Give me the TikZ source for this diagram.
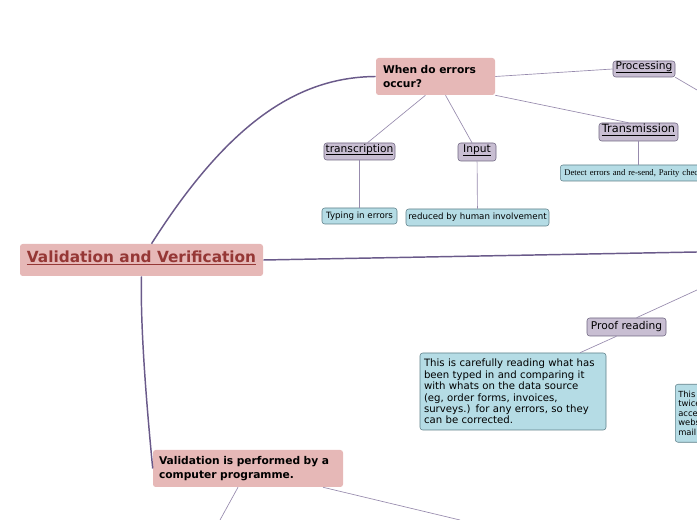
\documentclass[tikz,border=0pt]{standalone}
\usepackage{fontspec}
\setmainfont{DejaVu Sans}
\newfontfamily\serifx{Liberation Serif}
\newcommand\myul[1]{$\underline{\smash{\hbox{#1}}\vphantom{a}}$}
\definecolor{pinkf}{HTML}{E6B8B7}
\definecolor{purf}{HTML}{C8BED2}
\definecolor{purd}{HTML}{6E6680}
\definecolor{bluef}{HTML}{B5DCE5}
\definecolor{blued}{HTML}{5E7F88}
\definecolor{edge}{HTML}{6A5A8A}
\definecolor{redt}{HTML}{953735}
\begin{document}
\begin{tikzpicture}[x=0.75pt,y=-0.75pt,
 pinkbox/.style={fill=pinkf,rounded corners=2pt,inner sep=0pt,align=left},
 subbox/.style={fill=purf,draw=purd,rounded corners=2pt,inner sep=0pt,font=\fontsize{8}{9}\selectfont},
 leafbox/.style={fill=bluef,draw=blued,rounded corners=2pt,inner sep=0pt,font=\fontsize{6.5}{7}\selectfont},
 thick edge/.style={draw=edge,line width=1.1pt},
 thin edge/.style={draw=edge!70,line width=0.5pt}]
\useasboundingbox (0,0) rectangle (697,520);
\clip (0,0) rectangle (697,520);
% nodes
\node[pinkbox,minimum width=243*0.75pt,minimum height=32*0.75pt,align=center,font=\fontsize{11.5}{13}\selectfont\bfseries,text=redt] (main) at (141.5,260) {\myul{Validation and Verification}};
\node[pinkbox,minimum width=119*0.75pt,minimum height=37*0.75pt,font=\fontsize{8}{10}\selectfont\bfseries,text width=105*0.75pt] (when) at (435.5,76.5) {When do errors\\occur?};
\node[subbox,minimum width=62*0.75pt,minimum height=16*0.75pt] (proc) at (644,69) {\myul{Processing}};
\node[subbox,minimum width=71*0.75pt,minimum height=17*0.75pt] (trans) at (359.5,151.5) {\myul{transcription}};
\node[subbox,minimum width=38*0.75pt,minimum height=18*0.75pt] (input) at (477,152) {\myul{Input}};
\node[subbox,minimum width=79*0.75pt,minimum height=18*0.75pt,font=\fontsize{8.5}{10}\selectfont] (tx) at (638.5,132) {\myul{Transmission}};
\node[leafbox,minimum width=75*0.75pt,minimum height=16*0.75pt] (typing) at (359.5,216) {Typing in errors};
\node[leafbox,minimum width=143*0.75pt,minimum height=17*0.75pt] (reduced) at (477.5,217.5) {reduced by human involvement};
\node[leafbox,minimum width=160*0.75pt,minimum height=16*0.75pt,anchor=west,font=\serifx\fontsize{6.5}{7}\selectfont,align=left,text width=154*0.75pt,inner xsep=3pt] (detect) at (560,173) {Detect errors and re-send, Parity check};
\node[subbox,minimum width=79*0.75pt,minimum height=18*0.75pt] (proof) at (626.5,327) {Proof reading};
\node[leafbox,minimum width=184*0.75pt,minimum height=77*0.75pt,font=\fontsize{7.6}{8.6}\selectfont,align=left,text width=178*0.75pt,inner xsep=3pt] (careful) at (513,391.5) {This is carefully reading what has\\been typed in and comparing it\\with whats on the data source\\(eg, order forms, invoices,\\surveys.) for any errors, so they\\can be corrected.};
\node[leafbox,minimum width=60*0.75pt,minimum height=58*0.75pt,anchor=north west,font=\fontsize{6.3}{7.2}\selectfont,align=left,text width=54*0.75pt,inner xsep=2pt,inner ysep=2pt] (twice) at (675,384) {This\\twice\\acce\\webs\\mail};
\node[pinkbox,minimum width=190*0.75pt,minimum height=37*0.75pt,font=\fontsize{8}{10}\selectfont\bfseries,text width=178*0.75pt] (valid) at (248,468.5) {Validation is performed by a\\computer programme.};
\coordinate (rA) at (697,252);
\coordinate (rB) at (697,290);
\coordinate (rC) at (697,90);
\coordinate (bA) at (220,520);
\coordinate (bB) at (460,520);
% connectors
\draw[thick edge] ([xshift=10*0.75pt]main.north) .. controls (230,120) and (300,77) .. (when.west);
\draw[thick edge] (main.south) .. controls (140,330) and (148,420) .. (valid.west);
\draw[thick edge] (main.east) -- (rA);
\draw[thin edge] (when.east) -- (proc.west);
\draw[thin edge] (proc.south east) -- (rC);
\draw[thin edge] ([xshift=-10*0.75pt]when.south) -- ([xshift=8*0.75pt]trans.north);
\draw[thin edge] ([xshift=10*0.75pt]when.south) -- ([xshift=-5*0.75pt]input.north);
\draw[thin edge] (when.south east) -- ([xshift=-10*0.75pt]tx.north);
\draw[thin edge] (trans) -- (typing);
\draw[thin edge] (input) -- (reduced);
\draw[thin edge] (tx.south) -- (tx.south |- detect.north);
\draw[thin edge] ([xshift=10*0.75pt]proof.north) -- (rB);
\draw[thin edge] ([xshift=-10*0.75pt]proof.south) -- ([xshift=67*0.75pt]careful.north);
\draw[thin edge] ([xshift=-10*0.75pt]valid.south) -- (bA);
\draw[thin edge] ([xshift=75*0.75pt]valid.south) -- (bB);
\end{tikzpicture}
\end{document}
